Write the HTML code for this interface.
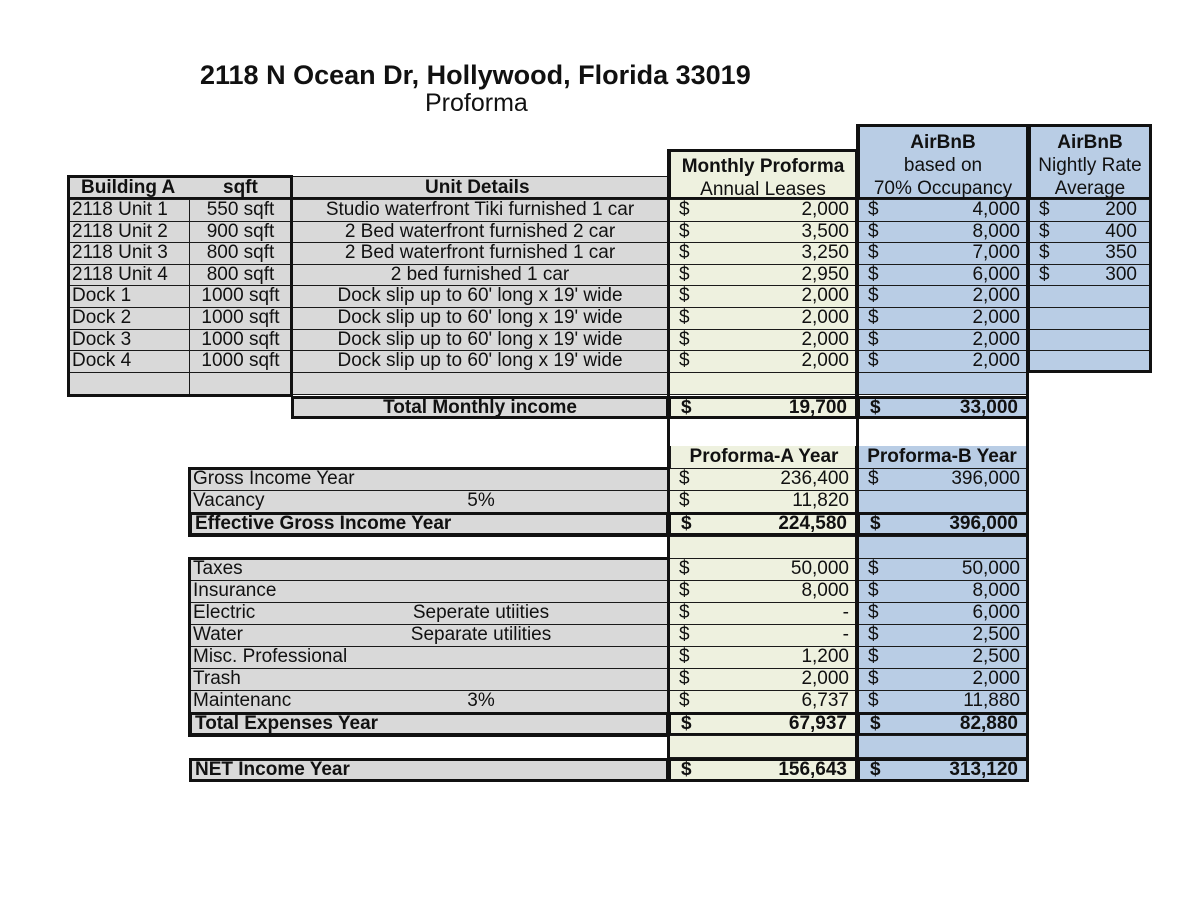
<!DOCTYPE html>
<html><head><meta charset="utf-8"><style>
body{margin:0;width:1178px;height:900px;background:#fff;position:relative;overflow:hidden;font-family:"Liberation Sans",Arial,sans-serif;color:#111}
.c{position:absolute;box-sizing:border-box;border:1.5px solid #1a1a1a;font-size:19px;line-height:19px;white-space:nowrap;overflow:hidden}
.g{background:#d9d9d9}.y{background:#eef1df}.b{background:#b9cde5}
.m{display:flex;justify-content:space-between;padding:0 8px 0 10px}
.ctr{text-align:center}.l{padding-left:3px}
.bd{font-weight:bold}
.f{position:absolute;box-sizing:border-box;border:3px solid #111}
.t{position:absolute;white-space:nowrap}
</style></head><body>
<div class="t" style="left:200px;top:60px;font-size:27px;font-weight:bold">2118 N Ocean Dr, Hollywood, Florida 33019</div>
<div class="t" style="left:425px;top:89px;font-size:25px">Proforma</div>

<div class="c g bd" style="left:68px;top:176px;width:600px;height:24px;border-bottom:3px solid #111"><span style="position:absolute;left:12px;top:1px">Building A</span><span style="position:absolute;left:154px;top:1px">sqft</span><span style="position:absolute;left:356px;top:1px">Unit Details</span></div>
<div class="c y ctr" style="left:668px;top:149px;width:190px;height:51px;border:3px solid #111;padding-top:3px;line-height:23px"><b>Monthly Proforma</b><br>Annual Leases</div>
<div class="c b ctr" style="left:857px;top:124px;width:172px;height:76px;border:3px solid #111;padding-top:4px;line-height:23px"><b>AirBnB</b><br>based on<br>70% Occupancy</div>
<div class="c b ctr" style="left:1028px;top:124px;width:124px;height:76px;border:3px solid #111;padding-top:4px;line-height:23px"><b>AirBnB</b><br>Nightly Rate<br>Average</div>

<div id="rows"></div>
<script>
var d=[["2118 Unit 1","550 sqft","Studio waterfront Tiki furnished 1 car","2,000","4,000","200"],
["2118 Unit 2","900 sqft","2 Bed waterfront furnished 2 car","3,500","8,000","400"],
["2118 Unit 3","800 sqft","2 Bed waterfront furnished 1 car","3,250","7,000","350"],
["2118 Unit 4","800 sqft","2 bed furnished 1 car","2,950","6,000","300"],
["Dock 1","1000 sqft","Dock slip up to 60' long x 19' wide","2,000","2,000",""],
["Dock 2","1000 sqft","Dock slip up to 60' long x 19' wide","2,000","2,000",""],
["Dock 3","1000 sqft","Dock slip up to 60' long x 19' wide","2,000","2,000",""],
["Dock 4","1000 sqft","Dock slip up to 60' long x 19' wide","2,000","2,000",""],
["","","","","",""]];
var h="";
function cell(x,y,w,hh,cls,inner,st){return '<div class="c '+cls+'" style="left:'+x+'px;top:'+y+'px;width:'+w+'px;height:'+hh+'px;'+(st||'')+'">'+inner+'</div>';}
function money(v){return v===""?"":'<span>$</span><span>'+v+'</span>';}
d.forEach(function(r,i){var y=199+i*21.6,hh=i==8?23:22.6;
h+=cell(68,y,122,hh,"g l",r[0]);h+=cell(189,y,103,hh,"g ctr",r[1]);h+=cell(291,y,378,hh,"g ctr",r[2]);
h+=cell(668,y,190,hh,"y m",money(r[3]));h+=cell(857,y,172,hh,"b m",money(r[4]));
if(i<8)h+=cell(1028,y,124,hh,"b m",money(r[5]),"padding-right:14px");});
h+='<div class="f" style="left:67px;top:175px;width:226px;height:222px"></div>';
h+='<div class="f" style="left:1027px;top:124px;width:125px;height:249px"></div>';
h+='<div class="f" style="left:667px;top:149px;width:191px;height:270px"></div>';
h+='<div class="f" style="left:856px;top:124px;width:173px;height:295px"></div>';
h+=cell(291,396,378,23,"g ctr bd","Total Monthly income","border:3px solid #111;line-height:17px");
h+=cell(668,396,190,23,"y m bd",money("19,700"),"border:3px solid #111;line-height:17px");
h+=cell(857,396,172,23,"b m bd",money("33,000"),"border:3px solid #111;line-height:17px");
h+='<div style="position:absolute;left:667px;top:418px;width:3px;height:30px;background:#111"></div>';
h+='<div style="position:absolute;left:856px;top:418px;width:3px;height:30px;background:#111"></div>';
h+='<div style="position:absolute;left:1026px;top:418px;width:3px;height:30px;background:#111"></div>';
h+=cell(668,446,190,23,"y ctr bd","Proforma-A Year","border-top:none;border-width:0 1.5px 1.5px 3px;line-height:21px");
h+=cell(857,446,172,23,"b ctr bd","Proforma-B Year","border-top:none;border-width:0 3px 1.5px 1.5px;line-height:21px");
var L=[[468,"Gross Income Year","","236,400","396,000",0],[490,"Vacancy","5%","11,820","",0],[512,"Effective Gross Income Year","","224,580","396,000",1],[536,null],
[558,"Taxes","","50,000","50,000",0],[580,"Insurance","","8,000","8,000",0],[602,"Electric","Seperate utiities","-","6,000",0],[624,"Water","Separate utilities","-","2,500",0],[646,"Misc. Professional","","1,200","2,500",0],[668,"Trash","","2,000","2,000",0],[690,"Maintenanc","3%","6,737","11,880",0],[712,"Total Expenses Year","","67,937","82,880",1],[735,null],[758,"NET Income Year","","156,643","313,120",1]];
L.forEach(function(r){var y=r[0];
if(r[1]===null){h+=cell(668,y,190,23,"y","");h+=cell(857,y,172,23,"b","");return;}
var bd=r[5]?" bd":"",bs=r[5]?"border:3px solid #111;line-height:18px;":"",hh=r[5]?24:23;
h+=cell(189,y,480,hh,"g l"+bd,r[1]+(r[2]?'<span style="position:absolute;left:291px;transform:translateX(-50%)">'+r[2]+'</span>':''),bs);
h+=cell(668,y,190,hh,"y m"+bd,money(r[3]),bs);
h+=cell(857,y,172,hh,"b m"+bd,r[4]?money(r[4]):"",bs);});
h+='<div class="f" style="left:188px;top:467px;width:482px;height:70px"></div>';
h+='<div class="f" style="left:188px;top:557px;width:482px;height:180px"></div>';
h+='<div class="f" style="left:667px;top:446px;width:191px;height:336px;border-top:none"></div>';
h+='<div class="f" style="left:856px;top:446px;width:173px;height:336px;border-top:none"></div>';
document.getElementById("rows").innerHTML=h;
</script>
</body></html>
